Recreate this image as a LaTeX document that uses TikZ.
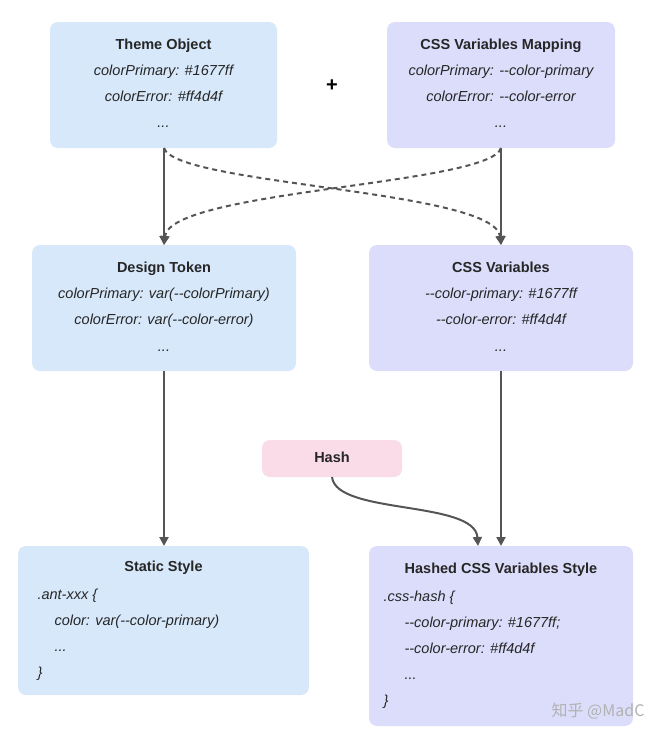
\documentclass[tikz,border=0pt]{standalone}
\usepackage{fontspec}
\setmainfont{Liberation Sans}
\newfontfamily\cjk{Noto Sans CJK SC}
\usetikzlibrary{arrows.meta}
\definecolor{bblue}{HTML}{D7E8FB}
\definecolor{blav}{HTML}{DCDDFB}
\definecolor{bpink}{HTML}{F9DCE8}
\definecolor{ln}{HTML}{555555}
\begin{document}
\begin{tikzpicture}[x=1pt,y=-1pt,
  ttl/.style={font=\bfseries\fontsize{14.5}{16}\selectfont,text=black!85,text height=10.5pt,text depth=3pt},
  txt/.style={font=\itshape\fontsize{14.5}{16}\selectfont,text=black!85,text height=10.5pt,text depth=3pt},
  arr/.style={draw=ln,line width=2pt,-{Triangle[length=9pt,width=9pt]}},
  dsh/.style={arr,dash pattern=on 5pt off 4pt}]
\useasboundingbox (0,0) rectangle (662,739);
\fill[bblue,rounded corners=8pt] (50,22) rectangle (277,148);
\fill[blav,rounded corners=8pt] (387,22) rectangle (615,148);
\fill[bblue,rounded corners=8pt] (32,245) rectangle (296,371);
\fill[blav,rounded corners=8pt] (369,245) rectangle (633,371);
\fill[bpink,rounded corners=8pt] (262,440) rectangle (402,477);
\fill[bblue,rounded corners=8pt] (18,546) rectangle (309,695);
\fill[blav,rounded corners=8pt] (369,546) rectangle (633,726);
\node[ttl] (t1) at (163.5,46) {Theme Object};
\node[txt] (t2) at (163.5,72) {colorPrimary: \#1677ff};
\node[txt] (t3) at (163.5,98) {colorError: \#ff4d4f};
\node[txt] (t4) at (163.5,124) {...};
\node[font=\bfseries\fontsize{20}{22}\selectfont] (plus) at (332,86) {+};
\node[ttl] (m1) at (501,46) {CSS Variables Mapping};
\node[txt] (m2) at (501,72) {colorPrimary: -{}-color-primary};
\node[txt] (m3) at (501,98) {colorError: -{}-color-error};
\node[txt] (m4) at (501,124) {...};
\node[ttl] (d1) at (164,269) {Design Token};
\node[txt] (d2) at (164,295) {colorPrimary: var(-{}-colorPrimary)};
\node[txt] (d3) at (164,321) {colorError: var(-{}-color-error)};
\node[txt] (d4) at (164,348) {...};
\node[ttl] (c1) at (501,269) {CSS Variables};
\node[txt] (c2) at (501,295) {-{}-color-primary: \#1677ff};
\node[txt] (c3) at (501,321) {-{}-color-error: \#ff4d4f};
\node[txt] (c4) at (501,348) {...};
\node[ttl] (h) at (332,459) {Hash};
\node[ttl] (s1) at (163.5,568) {Static Style};
\node[txt,anchor=west] (s2) at (34,596) {.ant-xxx \{};
\node[txt,anchor=west] (s3) at (51,622) {color: var(-{}-color-primary)};
\node[txt,anchor=west] (s4) at (51,648) {...};
\node[txt,anchor=west] (s5) at (34,674) {\}};
\node[ttl] (x1) at (501,570) {Hashed CSS Variables Style};
\node[txt,anchor=west] (x2) at (380,598) {.css-hash \{};
\node[txt,anchor=west] (x3) at (401,624) {-{}-color-primary: \#1677ff;};
\node[txt,anchor=west] (x4) at (401,650) {-{}-color-error: \#ff4d4f};
\node[txt,anchor=west] (x5) at (401,676) {...};
\node[txt,anchor=west] (x6) at (380,702) {\}};
\node[font=\cjk\fontsize{16}{18}\selectfont,text=black!30,anchor=east] (wm) at (648,711) {知乎 @MadC};
\coordinate (a1) at (164,148); \coordinate (a2) at (164,245);
\coordinate (b1) at (501,148); \coordinate (b2) at (501,245);
\coordinate (a3) at (164,371); \coordinate (a4) at (164,546);
\coordinate (b3) at (501,371); \coordinate (b4) at (501,546);
\coordinate (hh) at (332,477); \coordinate (hx) at (478,546);
\draw[arr] (a1) -- (a2);
\draw[arr] (b1) -- (b2);
\draw[dsh] (a1) .. controls (175,185) and (495,190) .. (b2);
\draw[dsh] (b1) .. controls (490,185) and (170,190) .. (a2);
\draw[arr] (a3) -- (a4);
\draw[arr] (b3) -- (b4);
\draw[arr] (hh) .. controls (336,515) and (475,500) .. (hx);
\end{tikzpicture}
\end{document}
